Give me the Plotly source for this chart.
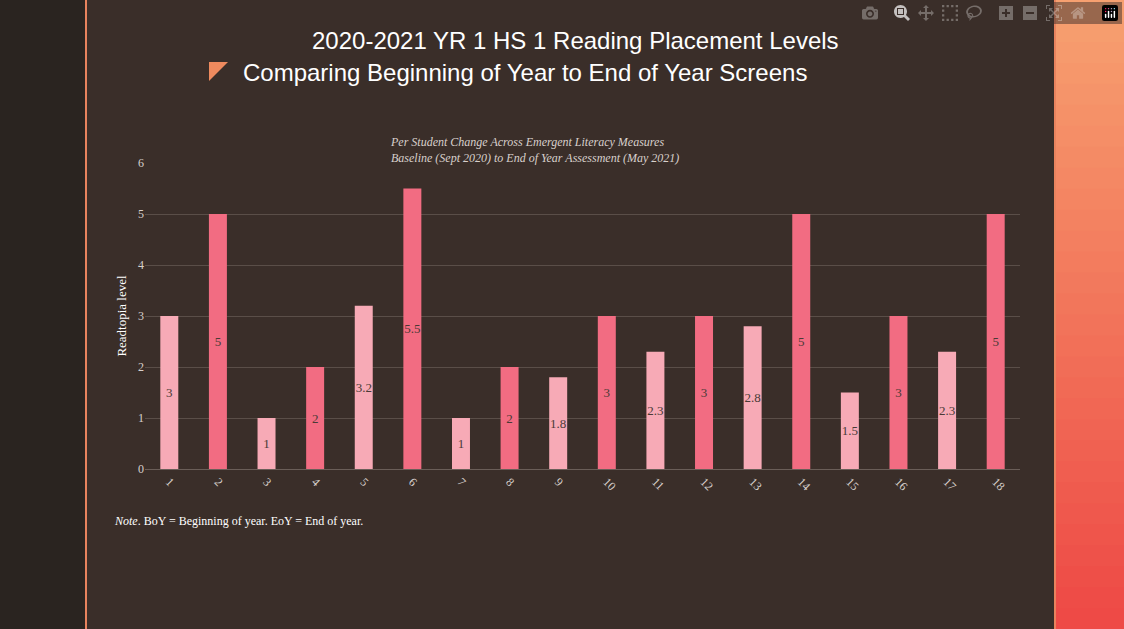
import plotly.graph_objects as go

students = [str(i) for i in range(1, 19)]
levels = [3, 5, 1, 2, 3.2, 5.5, 1, 2, 1.8, 3, 2.3, 3, 2.8, 5, 1.5, 3, 2.3, 5]
level_text = ["3", "5", "1", "2", "3.2", "5.5", "1", "2", "1.8", "3", "2.3", "3", "2.8", "5", "1.5", "3", "2.3", "5"]
colors = ["#f7aab6" if i % 2 == 0 else "#f26c82" for i in range(18)]

fig = go.Figure(go.Bar(
    x=students, y=levels, text=level_text, textposition="inside", insidetextanchor="middle",
    textangle=0, constraintext="none", cliponaxis=False,
    textfont=dict(family="Liberation Serif", size=13, color="#4a3a36"),
    marker=dict(color=colors, line=dict(width=0)), width=0.37))

W, H = 1124, 629
def px(x, y):
    return (x - 145) / 875, (469 - y) / 306

shapes = []
def rect(x0, y0, x1, y1, c):
    a, b = px(x0, y1)
    cc, d = px(x1, y0)
    shapes.append(dict(type="rect", xref="paper", yref="paper", x0=a, x1=cc, y0=b, y1=d,
                       fillcolor=c, line_width=0, layer="below"))

rect(0, 0, 86, 629, "#2a2420")
rect(86, 0, 1055, 629, "#3a2e29")
grad = [(247, 160, 112), (238, 74, 70)]
n = 30
for i in range(n):
    t = i / (n - 1)
    c = tuple(int(grad[0][k] + (grad[1][k] - grad[0][k]) * t) for k in range(3))
    rect(1055, i * 629 / n, 1124, (i + 1) * 629 / n + 1, "rgb(%d,%d,%d)" % c)
for xx in (86, 1055):
    a, _ = px(xx, 0)
    shapes.append(dict(type="line", xref="paper", yref="paper", x0=a, x1=a, y0=px(0, 629)[1], y1=px(0, 0)[1],
                       line=dict(color="#e8835e", width=2)))
p1, p2, p3 = px(209, 62), px(228, 62), px(209, 81)
shapes.append(dict(type="path", xref="paper", yref="paper",
                   path=f"M {p1[0]} {p1[1]} L {p2[0]} {p2[1]} L {p3[0]} {p3[1]} Z",
                   fillcolor="#ee8a5e", line_width=0))
fig.update_layout(shapes=shapes)

ann = []
def add(xp, yp, text, font, xanchor="center", align="center"):
    x, y = px(xp, yp)
    ann.append(dict(x=x, y=y, text=text, showarrow=False, xref="paper", yref="paper",
                    xanchor=xanchor, yanchor="middle", align=align, font=font))

add(575, 40, "2020-2021 YR 1 HS 1 Reading Placement Levels", dict(family="Liberation Sans", size=24, color="white"))
add(241, 73, "Comparing Beginning of Year to End of Year Screens", dict(family="Liberation Sans", size=24, color="white"), xanchor="left")
add(388, 150, "<i>Per Student Change Across Emergent Literacy Measures<br>Baseline (Sept 2020) to End of Year Assessment (May 2021)</i>",
    dict(family="Liberation Serif", size=12, color="#d8d0cc"), xanchor="left", align="left")
add(112, 521, "<i>Note</i>. BoY = Beginning of year. EoY = End of year.",
    dict(family="Liberation Serif", size=12, color="white"), xanchor="left")
fig.update_layout(annotations=ann)

fig.update_layout(
    width=W, height=H, margin=dict(l=145, r=104, t=163, b=160),
    paper_bgcolor="#3a2e29", plot_bgcolor="rgba(0,0,0,0)", showlegend=False,
    xaxis=dict(tickangle=45, tickfont=dict(family="Liberation Serif", size=12, color="#d8d0cc"),
               showgrid=False, linecolor="#6a5e58", ticks=""),
    yaxis=dict(range=[0, 6], dtick=1, gridcolor="#5a4e48", zeroline=False,
               tickfont=dict(family="Liberation Serif", size=12, color="#d8d0cc"),
               title=dict(text="Readtopia level", font=dict(family="Liberation Serif", size=13, color="white"), standoff=8)),
)
fig.write_html("out.html", post_script="document.body.style.margin='0';document.body.style.background='#3a2e29';")
